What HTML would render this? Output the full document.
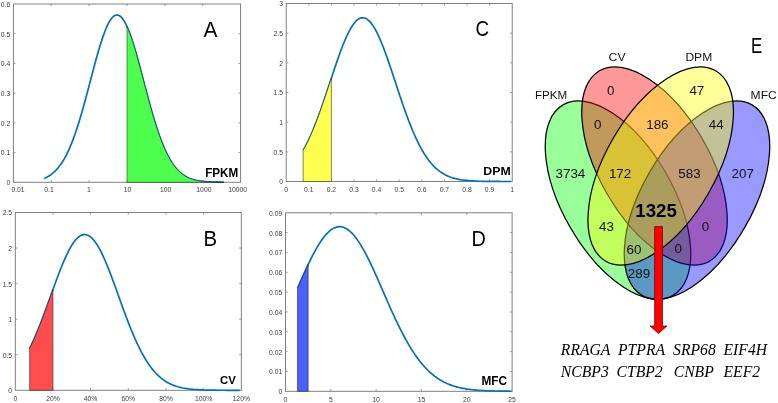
<!DOCTYPE html>
<html><head><meta charset="utf-8"><title>Figure</title>
<style>
html,body{margin:0;padding:0;background:#fff;}
body{width:778px;height:403px;overflow:hidden;}
svg{display:block;}
.tk{font-family:"Liberation Sans",sans-serif;font-size:6.8px;fill:#3c3c3c;}
.big{font-family:"Liberation Sans",sans-serif;font-size:21.6px;fill:#000;}
.lab{font-family:"Liberation Sans",sans-serif;font-size:12px;font-weight:bold;fill:#000;}
.vl{font-family:"Liberation Sans",sans-serif;font-size:11.4px;fill:#111;}
.vn{font-family:"Liberation Sans",sans-serif;font-size:13.4px;fill:#111;}
.vb{font-family:"Liberation Sans",sans-serif;font-size:17.6px;font-weight:bold;fill:#000;}
.gn{font-family:"Liberation Serif",serif;font-style:italic;font-size:15.7px;fill:#000;}
</style></head><body>
<svg width="778" height="403" viewBox="0 0 778 403">
<rect width="778" height="403" fill="#fff"/>
<rect x="13.40" y="4.00" width="227.20" height="178.30" fill="#fff" stroke="#7a7a7a" stroke-width="0.95"/>
<path d="M51.27 182.30v-2.2M51.27 4.00v2.2M89.13 182.30v-2.2M89.13 4.00v2.2M127.00 182.30v-2.2M127.00 4.00v2.2M164.87 182.30v-2.2M164.87 4.00v2.2M202.73 182.30v-2.2M202.73 4.00v2.2M13.40 152.58h2.2M240.60 152.58h-2.2M13.40 122.87h2.2M240.60 122.87h-2.2M13.40 93.15h2.2M240.60 93.15h-2.2M13.40 63.43h2.2M240.60 63.43h-2.2M13.40 33.72h2.2M240.60 33.72h-2.2" stroke="#7a7a7a" stroke-width="0.7" fill="none"/>
<polyline points="44.07,178.40 45.20,177.93 46.33,177.40 47.47,176.81 48.60,176.18 49.73,175.47 50.86,174.70 51.99,173.86 53.12,172.95 54.25,171.95 55.38,170.87 56.52,169.69 57.65,168.43 58.78,167.06 59.91,165.58 61.04,164.00 62.17,162.31 63.30,160.49 64.43,158.56 65.57,156.50 66.70,154.31 67.83,151.99 68.96,149.54 70.09,146.96 71.22,144.24 72.35,141.38 73.48,138.39 74.62,135.27 75.75,132.02 76.88,128.64 78.01,125.13 79.14,121.51 80.27,117.77 81.40,113.93 82.53,109.99 83.67,105.96 84.80,101.85 85.93,97.68 87.06,93.45 88.19,89.18 89.32,84.87 90.45,80.56 91.58,76.24 92.72,71.94 93.85,67.68 94.98,63.47 96.11,59.32 97.24,55.26 98.37,51.30 99.50,47.47 100.63,43.77 101.77,40.23 102.90,36.86 104.03,33.68 105.16,30.71 106.29,27.96 107.42,25.44 108.55,23.17 109.68,21.16 110.81,19.41 111.95,17.95 113.08,16.78 114.21,15.89 115.34,15.31 116.47,15.02 117.60,15.04 118.73,15.36 119.86,15.99 121.00,16.91 122.13,18.12 123.26,19.62 124.39,21.40 125.52,23.44 126.65,25.74 127.78,28.29 128.91,31.07 130.05,34.07 131.18,37.28 132.31,40.67 133.44,44.23 134.57,47.94 135.70,51.80 136.83,55.77 137.96,59.84 139.10,63.99 140.23,68.22 141.36,72.49 142.49,76.79 143.62,81.10 144.75,85.42 145.88,89.72 147.01,93.99 148.15,98.21 149.28,102.38 150.41,106.48 151.54,110.49 152.67,114.42 153.80,118.25 154.93,121.97 156.06,125.58 157.20,129.07 158.33,132.44 159.46,135.67 160.59,138.78 161.72,141.75 162.85,144.59 163.98,147.29 165.11,149.86 166.25,152.29 167.38,154.60 168.51,156.77 169.64,158.81 170.77,160.73 171.90,162.53 173.03,164.21 174.16,165.78 175.30,167.24 176.43,168.59 177.56,169.85 178.69,171.01 179.82,172.08 180.95,173.07 182.08,173.97 183.21,174.80 184.35,175.57 185.48,176.26 186.61,176.89 187.74,177.47 188.87,177.99 190.00,178.46 191.13,178.89 192.26,179.27 193.40,179.62 194.53,179.93 195.66,180.21 196.79,180.46 197.92,180.68 199.05,180.88 200.18,181.05 201.31,181.21 202.45,181.35 203.58,181.47 204.71,181.58 205.84,181.67 206.97,181.76 208.10,181.83 209.23,181.90 210.36,181.95 211.50,182.00 212.63,182.04 213.76,182.08 214.89,182.11 216.02,182.14 217.15,182.16 218.28,182.18 219.41,182.20 220.54,182.22 221.68,182.23 222.81,182.24 223.94,182.25" fill="none" stroke="#0072bd" stroke-width="1.7" stroke-linejoin="round" stroke-linecap="butt"/>
<polygon points="127.00,182.30 127.00,26.50 128.09,29.02 129.18,31.75 130.27,34.68 131.36,37.80 132.45,41.09 133.54,44.54 134.62,48.12 135.71,51.84 136.80,55.66 137.89,59.57 138.98,63.57 140.07,67.63 141.16,71.73 142.25,75.87 143.34,80.02 144.43,84.18 145.52,88.33 146.61,92.45 147.69,96.53 148.78,100.57 149.87,104.55 150.96,108.45 152.05,112.28 153.14,116.02 154.23,119.67 155.32,123.22 156.41,126.66 157.50,129.98 158.59,133.19 159.68,136.28 160.77,139.25 161.85,142.09 162.94,144.81 164.03,147.41 165.12,149.88 166.21,152.22 167.30,154.44 168.39,156.54 169.48,158.53 170.57,160.39 171.66,162.15 172.75,163.79 173.84,165.33 174.92,166.77 176.01,168.11 177.10,169.35 178.19,170.51 179.28,171.58 180.37,172.57 181.46,173.48 182.55,174.33 183.64,175.10 184.73,175.81 185.82,176.46 186.91,177.05 188.00,177.59 189.08,178.08 190.17,178.53 191.26,178.93 192.35,179.30 193.44,179.63 194.53,179.93 195.62,180.20 196.71,180.44 197.80,180.66 198.89,180.85 199.98,181.02 201.07,181.18 202.15,181.32 203.24,181.44 204.33,181.55 205.42,181.64 206.51,181.73 207.60,181.80 208.69,181.87 209.78,181.92 210.87,181.97 211.96,182.02 213.05,182.06 214.14,182.09 215.23,182.12 216.31,182.14 217.40,182.17 218.49,182.19 219.58,182.20 220.67,182.22 221.76,182.23 222.85,182.24 223.94,182.25 223.94,182.30" fill="#4dff4d" stroke="#222" stroke-width="0.55" stroke-linejoin="round"/>
<text x="18.00" y="192.00" text-anchor="middle" class="tk">0.01</text>
<text x="49.00" y="192.00" text-anchor="middle" class="tk">0.1</text>
<text x="89.00" y="192.00" text-anchor="middle" class="tk">1</text>
<text x="127.60" y="192.00" text-anchor="middle" class="tk">10</text>
<text x="165.60" y="192.00" text-anchor="middle" class="tk">100</text>
<text x="203.90" y="192.00" text-anchor="middle" class="tk">1000</text>
<text x="237.70" y="192.00" text-anchor="middle" class="tk">10000</text>
<text x="10.20" y="185.20" text-anchor="end" class="tk">0</text>
<text x="10.20" y="155.48" text-anchor="end" class="tk">0.1</text>
<text x="10.20" y="125.77" text-anchor="end" class="tk">0.2</text>
<text x="10.20" y="96.05" text-anchor="end" class="tk">0.3</text>
<text x="10.20" y="66.33" text-anchor="end" class="tk">0.4</text>
<text x="10.20" y="36.62" text-anchor="end" class="tk">0.5</text>
<text x="10.20" y="6.90" text-anchor="end" class="tk">0.6</text>
<rect x="15.30" y="212.50" width="226.00" height="177.80" fill="#fff" stroke="#7a7a7a" stroke-width="0.95"/>
<path d="M52.97 390.30v-2.2M52.97 212.50v2.2M90.63 390.30v-2.2M90.63 212.50v2.2M128.30 390.30v-2.2M128.30 212.50v2.2M165.97 390.30v-2.2M165.97 212.50v2.2M203.63 390.30v-2.2M203.63 212.50v2.2M15.30 354.74h2.2M241.30 354.74h-2.2M15.30 319.18h2.2M241.30 319.18h-2.2M15.30 283.62h2.2M241.30 283.62h-2.2M15.30 248.06h2.2M241.30 248.06h-2.2" stroke="#7a7a7a" stroke-width="0.7" fill="none"/>
<polyline points="29.61,348.52 30.94,345.82 32.26,343.03 33.58,340.13 34.90,337.14 36.22,334.05 37.54,330.88 38.87,327.62 40.19,324.29 41.51,320.88 42.83,317.41 44.15,313.88 45.48,310.30 46.80,306.68 48.12,303.03 49.44,299.35 50.76,295.67 52.09,291.99 53.41,288.32 54.73,284.68 56.05,281.07 57.37,277.50 58.69,274.00 60.02,270.58 61.34,267.23 62.66,263.99 63.98,260.86 65.30,257.86 66.63,254.98 67.95,252.26 69.27,249.70 70.59,247.30 71.91,245.09 73.24,243.07 74.56,241.24 75.88,239.62 77.20,238.22 78.52,237.04 79.85,236.08 81.17,235.35 82.49,234.85 83.81,234.59 85.13,234.57 86.45,234.78 87.78,235.23 89.10,235.91 90.42,236.82 91.74,237.96 93.06,239.32 94.39,240.89 95.71,242.68 97.03,244.66 98.35,246.84 99.67,249.19 101.00,251.72 102.32,254.42 103.64,257.26 104.96,260.24 106.28,263.34 107.60,266.56 108.93,269.89 110.25,273.30 111.57,276.78 112.89,280.33 114.21,283.93 115.54,287.57 116.86,291.24 118.18,294.92 119.50,298.60 120.82,302.28 122.15,305.93 123.47,309.56 124.79,313.15 126.11,316.69 127.43,320.17 128.75,323.60 130.08,326.95 131.40,330.22 132.72,333.41 134.04,336.52 135.36,339.53 136.69,342.44 138.01,345.26 139.33,347.98 140.65,350.59 141.97,353.10 143.30,355.50 144.62,357.79 145.94,359.99 147.26,362.07 148.58,364.05 149.91,365.94 151.23,367.72 152.55,369.40 153.87,370.98 155.19,372.48 156.51,373.88 157.84,375.19 159.16,376.42 160.48,377.57 161.80,378.65 163.12,379.65 164.45,380.57 165.77,381.43 167.09,382.23 168.41,382.97 169.73,383.64 171.06,384.27 172.38,384.84 173.70,385.37 175.02,385.86 176.34,386.30 177.66,386.70 178.99,387.07 180.31,387.40 181.63,387.71 182.95,387.98 184.27,388.23 185.60,388.46 186.92,388.66 188.24,388.84 189.56,389.01 190.88,389.16 192.21,389.29 193.53,389.41 194.85,389.51 196.17,389.61 197.49,389.69 198.81,389.77 200.14,389.83 201.46,389.89 202.78,389.94 204.10,389.99 205.42,390.03 206.75,390.06 208.07,390.09 209.39,390.12 210.71,390.15 212.03,390.17 213.36,390.19 214.68,390.20 216.00,390.21 217.32,390.23 218.64,390.24 219.97,390.25 221.29,390.25 222.61,390.26 223.93,390.27 225.25,390.27 226.57,390.28 227.90,390.28 229.22,390.28 230.54,390.29 231.86,390.29 233.18,390.29 234.51,390.29 235.83,390.29 237.15,390.29 238.47,390.29 239.79,390.30" fill="none" stroke="#0072bd" stroke-width="1.7" stroke-linejoin="round" stroke-linecap="butt"/>
<polygon points="29.61,390.30 29.61,348.52 30.42,346.89 31.22,345.22 32.03,343.52 32.83,341.77 33.64,340.00 34.45,338.18 35.25,336.33 36.06,334.45 36.86,332.53 37.67,330.58 38.47,328.60 39.28,326.59 40.08,324.56 40.89,322.49 41.69,320.40 42.50,318.29 43.30,316.15 44.11,314.00 44.91,311.82 45.72,309.63 46.52,307.43 47.33,305.21 48.13,302.98 48.94,300.75 49.75,298.51 50.55,296.27 51.36,294.02 52.16,291.78 52.97,289.54 52.97,390.30" fill="#ff4d4d" stroke="#222" stroke-width="0.55" stroke-linejoin="round"/>
<text x="15.30" y="400.70" text-anchor="middle" class="tk">0</text>
<text x="52.97" y="400.70" text-anchor="middle" class="tk">20%</text>
<text x="90.63" y="400.70" text-anchor="middle" class="tk">40%</text>
<text x="128.30" y="400.70" text-anchor="middle" class="tk">60%</text>
<text x="165.97" y="400.70" text-anchor="middle" class="tk">80%</text>
<text x="203.63" y="400.70" text-anchor="middle" class="tk">100%</text>
<text x="241.30" y="400.70" text-anchor="middle" class="tk">120%</text>
<text x="12.10" y="393.20" text-anchor="end" class="tk">0</text>
<text x="12.10" y="357.64" text-anchor="end" class="tk">0.5</text>
<text x="12.10" y="322.08" text-anchor="end" class="tk">1</text>
<text x="12.10" y="286.52" text-anchor="end" class="tk">1.5</text>
<text x="12.10" y="250.96" text-anchor="end" class="tk">2</text>
<text x="12.10" y="215.40" text-anchor="end" class="tk">2.5</text>
<rect x="286.20" y="3.50" width="226.00" height="178.00" fill="#fff" stroke="#7a7a7a" stroke-width="0.95"/>
<path d="M308.80 181.50v-2.2M308.80 3.50v2.2M331.40 181.50v-2.2M331.40 3.50v2.2M354.00 181.50v-2.2M354.00 3.50v2.2M376.60 181.50v-2.2M376.60 3.50v2.2M399.20 181.50v-2.2M399.20 3.50v2.2M421.80 181.50v-2.2M421.80 3.50v2.2M444.40 181.50v-2.2M444.40 3.50v2.2M467.00 181.50v-2.2M467.00 3.50v2.2M489.60 181.50v-2.2M489.60 3.50v2.2M286.20 151.83h2.2M512.20 151.83h-2.2M286.20 122.17h2.2M512.20 122.17h-2.2M286.20 92.50h2.2M512.20 92.50h-2.2M286.20 62.83h2.2M512.20 62.83h-2.2M286.20 33.17h2.2M512.20 33.17h-2.2" stroke="#7a7a7a" stroke-width="0.7" fill="none"/>
<polyline points="303.15,150.44 304.46,148.12 305.77,145.68 307.07,143.12 308.38,140.44 309.69,137.65 311.00,134.74 312.30,131.72 313.61,128.59 314.92,125.35 316.23,122.01 317.53,118.57 318.84,115.04 320.15,111.43 321.46,107.73 322.77,103.97 324.07,100.14 325.38,96.27 326.69,92.35 328.00,88.40 329.30,84.43 330.61,80.45 331.92,76.48 333.23,72.53 334.53,68.61 335.84,64.73 337.15,60.92 338.46,57.18 339.76,53.53 341.07,49.99 342.38,46.56 343.69,43.27 345.00,40.12 346.30,37.14 347.61,34.32 348.92,31.69 350.23,29.26 351.53,27.04 352.84,25.04 354.15,23.26 355.46,21.72 356.76,20.42 358.07,19.38 359.38,18.58 360.69,18.05 362.00,17.78 363.30,17.77 364.61,18.02 365.92,18.53 367.23,19.30 368.53,20.33 369.84,21.61 371.15,23.13 372.46,24.89 373.76,26.87 375.07,29.08 376.38,31.49 377.69,34.11 379.00,36.91 380.30,39.88 381.61,43.01 382.92,46.30 384.23,49.71 385.53,53.25 386.84,56.89 388.15,60.62 389.46,64.43 390.76,68.30 392.07,72.21 393.38,76.16 394.69,80.13 395.99,84.11 397.30,88.08 398.61,92.03 399.92,95.96 401.23,99.84 402.53,103.67 403.84,107.44 405.15,111.14 406.46,114.76 407.76,118.30 409.07,121.74 410.38,125.09 411.69,128.34 412.99,131.48 414.30,134.50 415.61,137.42 416.92,140.22 418.23,142.91 419.53,145.48 420.84,147.93 422.15,150.26 423.46,152.48 424.76,154.59 426.07,156.58 427.38,158.46 428.69,160.24 429.99,161.90 431.30,163.47 432.61,164.94 433.92,166.31 435.22,167.59 436.53,168.79 437.84,169.90 439.15,170.93 440.46,171.88 441.76,172.76 443.07,173.57 444.38,174.32 445.69,175.01 446.99,175.65 448.30,176.22 449.61,176.75 450.92,177.24 452.22,177.68 453.53,178.08 454.84,178.44 456.15,178.77 457.46,179.07 458.76,179.34 460.07,179.58 461.38,179.80 462.69,179.99 463.99,180.17 465.30,180.32 466.61,180.46 467.92,180.59 469.22,180.70 470.53,180.80 471.84,180.88 473.15,180.96 474.46,181.03 475.76,181.09 477.07,181.14 478.38,181.19 479.69,181.23 480.99,181.27 482.30,181.30 483.61,181.33 484.92,181.35 486.22,181.37 487.53,181.39 488.84,181.41 490.15,181.42 491.45,181.43 492.76,181.44 494.07,181.45 495.38,181.46 496.69,181.46 497.99,181.47 499.30,181.47 500.61,181.48 501.92,181.48 503.22,181.48 504.53,181.49 505.84,181.49 507.15,181.49 508.45,181.49 509.76,181.49 511.07,181.49" fill="none" stroke="#0072bd" stroke-width="1.7" stroke-linejoin="round" stroke-linecap="butt"/>
<polygon points="303.15,181.50 303.15,150.44 304.12,148.72 305.10,146.94 306.07,145.09 307.05,143.17 308.02,141.19 308.99,139.14 309.97,137.03 310.94,134.86 311.92,132.62 312.89,130.33 313.87,127.97 314.84,125.55 315.81,123.08 316.79,120.55 317.76,117.96 318.74,115.33 319.71,112.65 320.68,109.93 321.66,107.16 322.63,104.35 323.61,101.51 324.58,98.64 325.56,95.74 326.53,92.82 327.50,89.89 328.48,86.94 329.45,83.98 330.43,81.01 331.40,78.05 331.40,181.50" fill="#ffff4d" stroke="#222" stroke-width="0.55" stroke-linejoin="round"/>
<text x="286.20" y="192.00" text-anchor="middle" class="tk">0</text>
<text x="308.80" y="192.00" text-anchor="middle" class="tk">0.1</text>
<text x="331.40" y="192.00" text-anchor="middle" class="tk">0.2</text>
<text x="354.00" y="192.00" text-anchor="middle" class="tk">0.3</text>
<text x="376.60" y="192.00" text-anchor="middle" class="tk">0.4</text>
<text x="399.20" y="192.00" text-anchor="middle" class="tk">0.5</text>
<text x="421.80" y="192.00" text-anchor="middle" class="tk">0.6</text>
<text x="444.40" y="192.00" text-anchor="middle" class="tk">0.7</text>
<text x="467.00" y="192.00" text-anchor="middle" class="tk">0.8</text>
<text x="489.60" y="192.00" text-anchor="middle" class="tk">0.9</text>
<text x="512.20" y="192.00" text-anchor="middle" class="tk">1</text>
<text x="283.00" y="184.40" text-anchor="end" class="tk">0</text>
<text x="283.00" y="154.73" text-anchor="end" class="tk">0.5</text>
<text x="283.00" y="125.07" text-anchor="end" class="tk">1</text>
<text x="283.00" y="95.40" text-anchor="end" class="tk">1.5</text>
<text x="283.00" y="65.73" text-anchor="end" class="tk">2</text>
<text x="283.00" y="36.07" text-anchor="end" class="tk">2.5</text>
<text x="283.00" y="6.40" text-anchor="end" class="tk">3</text>
<rect x="285.50" y="212.80" width="226.60" height="178.50" fill="#fff" stroke="#7a7a7a" stroke-width="0.95"/>
<path d="M330.82 391.30v-2.2M330.82 212.80v2.2M376.14 391.30v-2.2M376.14 212.80v2.2M421.46 391.30v-2.2M421.46 212.80v2.2M466.78 391.30v-2.2M466.78 212.80v2.2M285.50 371.47h2.2M512.10 371.47h-2.2M285.50 351.63h2.2M512.10 351.63h-2.2M285.50 331.80h2.2M512.10 331.80h-2.2M285.50 311.97h2.2M512.10 311.97h-2.2M285.50 292.13h2.2M512.10 292.13h-2.2M285.50 272.30h2.2M512.10 272.30h-2.2M285.50 252.47h2.2M512.10 252.47h-2.2M285.50 232.63h2.2M512.10 232.63h-2.2" stroke="#7a7a7a" stroke-width="0.7" fill="none"/>
<polyline points="297.46,288.34 298.81,285.25 300.16,282.18 301.51,279.13 302.85,276.10 304.20,273.10 305.55,270.14 306.89,267.23 308.24,264.37 309.59,261.56 310.94,258.83 312.28,256.16 313.63,253.57 314.98,251.07 316.32,248.66 317.67,246.34 319.02,244.13 320.36,242.03 321.71,240.04 323.06,238.18 324.41,236.44 325.75,234.83 327.10,233.35 328.45,232.02 329.79,230.82 331.14,229.77 332.49,228.88 333.84,228.13 335.18,227.53 336.53,227.10 337.88,226.81 339.22,226.69 340.57,226.72 341.92,226.91 343.26,227.26 344.61,227.77 345.96,228.43 347.31,229.24 348.65,230.20 350.00,231.31 351.35,232.56 352.69,233.96 354.04,235.49 355.39,237.16 356.74,238.95 358.08,240.87 359.43,242.90 360.78,245.05 362.12,247.31 363.47,249.66 364.82,252.12 366.16,254.65 367.51,257.28 368.86,259.97 370.21,262.74 371.55,265.57 372.90,268.45 374.25,271.39 375.59,274.36 376.94,277.37 378.29,280.41 379.64,283.48 380.98,286.55 382.33,289.64 383.68,292.73 385.02,295.82 386.37,298.90 387.72,301.97 389.06,305.02 390.41,308.04 391.76,311.04 393.11,314.00 394.45,316.92 395.80,319.80 397.15,322.64 398.49,325.42 399.84,328.16 401.19,330.83 402.54,333.45 403.88,336.01 405.23,338.51 406.58,340.94 407.92,343.31 409.27,345.61 410.62,347.84 411.96,350.00 413.31,352.09 414.66,354.11 416.01,356.06 417.35,357.94 418.70,359.76 420.05,361.50 421.39,363.17 422.74,364.77 424.09,366.31 425.44,367.78 426.78,369.18 428.13,370.52 429.48,371.80 430.82,373.02 432.17,374.17 433.52,375.27 434.86,376.32 436.21,377.30 437.56,378.24 438.91,379.13 440.25,379.96 441.60,380.75 442.95,381.49 444.29,382.19 445.64,382.85 446.99,383.47 448.34,384.05 449.68,384.59 451.03,385.10 452.38,385.58 453.72,386.02 455.07,386.43 456.42,386.82 457.76,387.18 459.11,387.51 460.46,387.82 461.81,388.11 463.15,388.38 464.50,388.63 465.85,388.85 467.19,389.07 468.54,389.26 469.89,389.44 471.24,389.61 472.58,389.76 473.93,389.90 475.28,390.03 476.62,390.14 477.97,390.25 479.32,390.35 480.66,390.44 482.01,390.52 483.36,390.60 484.71,390.67 486.05,390.73 487.40,390.79 488.75,390.84 490.09,390.88 491.44,390.93 492.79,390.97 494.14,391.00 495.48,391.03 496.83,391.06 498.18,391.09 499.52,391.11 500.87,391.13 502.22,391.15 503.56,391.16 504.91,391.18 506.26,391.19 507.61,391.20 508.95,391.22 510.30,391.23 511.65,391.23" fill="none" stroke="#0072bd" stroke-width="1.7" stroke-linejoin="round" stroke-linecap="butt"/>
<polygon points="297.46,391.30 297.46,288.34 298.03,287.05 298.59,285.76 299.15,284.47 299.72,283.19 300.28,281.91 300.84,280.63 301.40,279.35 301.97,278.08 302.53,276.82 303.09,275.56 303.66,274.31 304.22,273.06 304.78,271.82 305.35,270.58 305.91,269.36 306.47,268.14 307.03,266.93 307.60,265.73 308.16,264.54 308.16,391.30" fill="#4b5fff" stroke="#222" stroke-width="0.55" stroke-linejoin="round"/>
<text x="285.50" y="401.90" text-anchor="middle" class="tk">0</text>
<text x="330.82" y="401.90" text-anchor="middle" class="tk">5</text>
<text x="376.14" y="401.90" text-anchor="middle" class="tk">10</text>
<text x="421.46" y="401.90" text-anchor="middle" class="tk">15</text>
<text x="466.78" y="401.90" text-anchor="middle" class="tk">20</text>
<text x="512.10" y="401.90" text-anchor="middle" class="tk">25</text>
<text x="282.30" y="394.20" text-anchor="end" class="tk">0</text>
<text x="282.30" y="374.37" text-anchor="end" class="tk">0.01</text>
<text x="282.30" y="354.53" text-anchor="end" class="tk">0.02</text>
<text x="282.30" y="334.70" text-anchor="end" class="tk">0.03</text>
<text x="282.30" y="314.87" text-anchor="end" class="tk">0.04</text>
<text x="282.30" y="295.03" text-anchor="end" class="tk">0.05</text>
<text x="282.30" y="275.20" text-anchor="end" class="tk">0.06</text>
<text x="282.30" y="255.37" text-anchor="end" class="tk">0.07</text>
<text x="282.30" y="235.53" text-anchor="end" class="tk">0.08</text>
<text x="282.30" y="215.70" text-anchor="end" class="tk">0.09</text>
<text x="203.40" y="37.20" class="big" text-anchor="start" textLength="14.0" lengthAdjust="spacingAndGlyphs">A</text>
<text x="203.40" y="245.50" class="big" text-anchor="start" textLength="13.6" lengthAdjust="spacingAndGlyphs">B</text>
<text x="475.40" y="36.40" class="big" text-anchor="start" textLength="13.6" lengthAdjust="spacingAndGlyphs">C</text>
<text x="471.40" y="245.50" class="big" text-anchor="start" textLength="14.4" lengthAdjust="spacingAndGlyphs">D</text>
<text x="751.10" y="53.00" class="big" text-anchor="start" textLength="11.3" lengthAdjust="spacingAndGlyphs">E</text>
<text x="205.20" y="177.40" class="lab" text-anchor="start" textLength="33.0" lengthAdjust="spacingAndGlyphs" style="font-size:12.4px">FPKM</text>
<text x="220.10" y="383.50" class="lab" text-anchor="start" textLength="15.8" lengthAdjust="spacingAndGlyphs" style="font-size:11.8px">CV</text>
<text x="483.30" y="175.30" class="lab" text-anchor="start" textLength="27.4" lengthAdjust="spacingAndGlyphs" style="font-size:11px">DPM</text>
<text x="481.40" y="384.90" class="lab" text-anchor="start" textLength="25.6" lengthAdjust="spacingAndGlyphs">MFC</text>
<g stroke="#000" stroke-width="1.25" fill-opacity="0.4">
<ellipse cx="618" cy="200.15" rx="110" ry="55" fill="#00ff00" transform="rotate(60 618 200.15)"/>
<ellipse cx="654.5" cy="166" rx="110" ry="55" fill="#ff0000" transform="rotate(60 654.5 166)"/>
<ellipse cx="697" cy="200.15" rx="110" ry="55" fill="#0000ff" transform="rotate(-60 697 200.15)"/>
<ellipse cx="660.7" cy="166" rx="110" ry="55" fill="#ffff00" transform="rotate(-60 660.7 166)"/>
</g>
<text x="535.00" y="98.80" class="vl" text-anchor="start" textLength="32.2" lengthAdjust="spacingAndGlyphs">FPKM</text>
<text x="608.60" y="60.90" class="vl" text-anchor="start" textLength="16.9" lengthAdjust="spacingAndGlyphs">CV</text>
<text x="685.40" y="61.20" class="vl" text-anchor="start" textLength="26.8" lengthAdjust="spacingAndGlyphs">DPM</text>
<text x="750.60" y="98.80" class="vl" text-anchor="start" textLength="26.2" lengthAdjust="spacingAndGlyphs">MFC</text>
<text x="607.00" y="94.90" class="vn" text-anchor="start">0</text>
<text x="689.40" y="94.90" class="vn" text-anchor="start">47</text>
<text x="594.10" y="129.40" class="vn" text-anchor="start">0</text>
<text x="646.20" y="128.80" class="vn" text-anchor="start">186</text>
<text x="708.80" y="128.80" class="vn" text-anchor="start">44</text>
<text x="555.50" y="178.40" class="vn" text-anchor="start">3734</text>
<text x="608.90" y="178.40" class="vn" text-anchor="start">172</text>
<text x="678.30" y="178.40" class="vn" text-anchor="start">583</text>
<text x="731.50" y="178.40" class="vn" text-anchor="start">207</text>
<text x="599.00" y="231.40" class="vn" text-anchor="start">43</text>
<text x="701.70" y="230.90" class="vn" text-anchor="start">0</text>
<text x="626.60" y="253.80" class="vn" text-anchor="start">60</text>
<text x="674.60" y="253.40" class="vn" text-anchor="start">0</text>
<text x="627.80" y="277.60" class="vn" text-anchor="start">289</text>
<text x="635.30" y="216.50" class="vb" text-anchor="start" textLength="41.6" lengthAdjust="spacingAndGlyphs">1325</text>
<path d="M654.6 226.6H662.5V326H667L658.5 333.6L650 326H654.6Z" fill="#ff0000" stroke="#5a0000" stroke-width="0.7" stroke-linejoin="miter"/>
<text x="560.80" y="354.50" class="gn" text-anchor="start">RRAGA</text>
<text x="618.00" y="354.50" class="gn" text-anchor="start">PTPRA</text>
<text x="673.10" y="354.50" class="gn" text-anchor="start">SRP68</text>
<text x="723.50" y="354.50" class="gn" text-anchor="start">EIF4H</text>
<text x="560.80" y="377.10" class="gn" text-anchor="start">NCBP3</text>
<text x="616.50" y="377.10" class="gn" text-anchor="start">CTBP2</text>
<text x="673.70" y="377.10" class="gn" text-anchor="start">CNBP</text>
<text x="723.50" y="377.10" class="gn" text-anchor="start">EEF2</text>
</svg>
</body></html>
